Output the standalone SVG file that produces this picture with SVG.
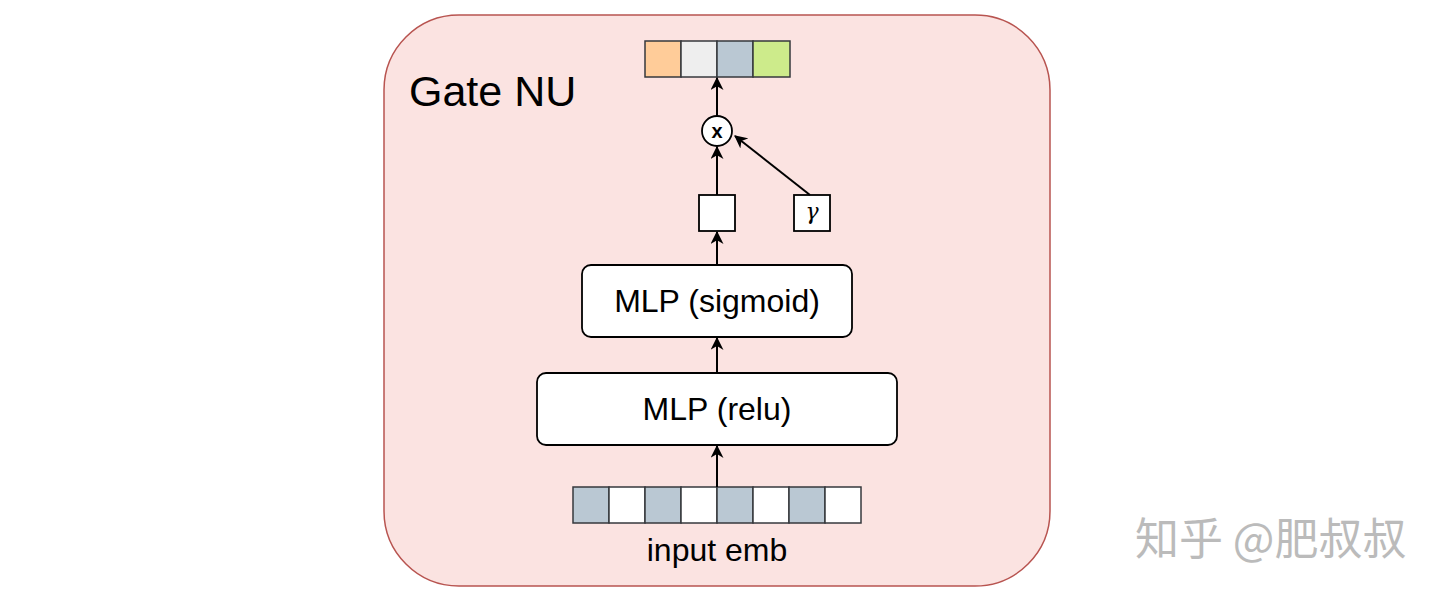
<svg xmlns="http://www.w3.org/2000/svg" width="1440" height="599" viewBox="0 0 1440 599">
<style>
.t{font-family:"Liberation Sans",Arial,sans-serif;fill:#000}
.cell{stroke:#36393d;stroke-width:1.5}
.box{fill:#fff;stroke:#000;stroke-width:1.8}
.c{stroke:#000;stroke-width:2;fill:none}
</style>
<defs>
<marker id="ah" viewBox="0 0 12 12" refX="11" refY="6" markerWidth="13" markerHeight="13" markerUnits="userSpaceOnUse" orient="auto">
<path d="M0,0 L12,6 L0,12 L3.5,6 Z" fill="#000"/>
</marker>
</defs>
<rect width="1440" height="599" fill="#fff"/>
<g id="container">
<rect x="384" y="15" width="666" height="571" rx="75" ry="75" fill="#fbe3e1" stroke="#b85450" stroke-width="1.5"/>
<text class="t" x="409" y="106" font-size="43">Gate NU</text>
</g>
<g id="output-vector">
<rect class="cell" x="645" y="41" width="36" height="36" fill="#ffcc99"/>
<rect class="cell" x="681" y="41" width="36" height="36" fill="#eeeeee"/>
<rect class="cell" x="717" y="41" width="36" height="36" fill="#bac8d3"/>
<rect class="cell" x="753" y="41" width="37" height="36" fill="#cdeb8b"/>
</g>
<g id="multiply">
<circle cx="717" cy="131" r="15" class="box"/>
<text x="717" y="138" font-size="20" text-anchor="middle" font-family="'Liberation Sans',Arial,sans-serif" font-weight="bold">x</text>
</g>
<g id="gate-box">
<rect class="box" x="699" y="195" width="36" height="36"/>
</g>
<g id="gamma-box">
<rect class="box" x="794" y="195" width="36" height="36"/>
<text x="812" y="219" font-size="22" text-anchor="middle" font-family="'DejaVu Serif',serif" font-style="italic">γ</text>
</g>
<g id="mlp-sigmoid">
<rect class="box" x="582" y="265" width="270" height="72" rx="9"/>
<text class="t" x="717" y="312" font-size="32" text-anchor="middle">MLP (sigmoid)</text>
</g>
<g id="mlp-relu">
<rect class="box" x="537" y="373" width="360" height="72" rx="9"/>
<text class="t" x="717" y="420" font-size="32" text-anchor="middle">MLP (relu)</text>
</g>
<g id="input-emb">
<rect class="cell" x="573" y="487" width="36" height="36" fill="#bac8d3"/>
<rect class="cell" x="609" y="487" width="36" height="36" fill="#fff"/>
<rect class="cell" x="645" y="487" width="36" height="36" fill="#bac8d3"/>
<rect class="cell" x="681" y="487" width="36" height="36" fill="#fff"/>
<rect class="cell" x="717" y="487" width="36" height="36" fill="#bac8d3"/>
<rect class="cell" x="753" y="487" width="36" height="36" fill="#fff"/>
<rect class="cell" x="789" y="487" width="36" height="36" fill="#bac8d3"/>
<rect class="cell" x="825" y="487" width="36" height="36" fill="#fff"/>
<text class="t" x="717" y="561" font-size="32" text-anchor="middle">input emb</text>
</g>
<g id="connectors">
<line class="c" x1="717" y1="487" x2="717" y2="446" marker-end="url(#ah)"/>
<line class="c" x1="717" y1="373" x2="717" y2="338" marker-end="url(#ah)"/>
<line class="c" x1="717" y1="265" x2="717" y2="232" marker-end="url(#ah)"/>
<line class="c" x1="717" y1="195" x2="717" y2="147" marker-end="url(#ah)"/>
<line class="c" x1="810" y1="195" x2="735" y2="136" marker-end="url(#ah)"/>
<line class="c" x1="717" y1="116" x2="717" y2="78" marker-end="url(#ah)"/>
</g>
<text x="1135" y="555" font-size="44" fill="#bbbbbb" font-family="'Noto Sans CJK SC',sans-serif">知乎 @肥叔叔</text>
</svg>
